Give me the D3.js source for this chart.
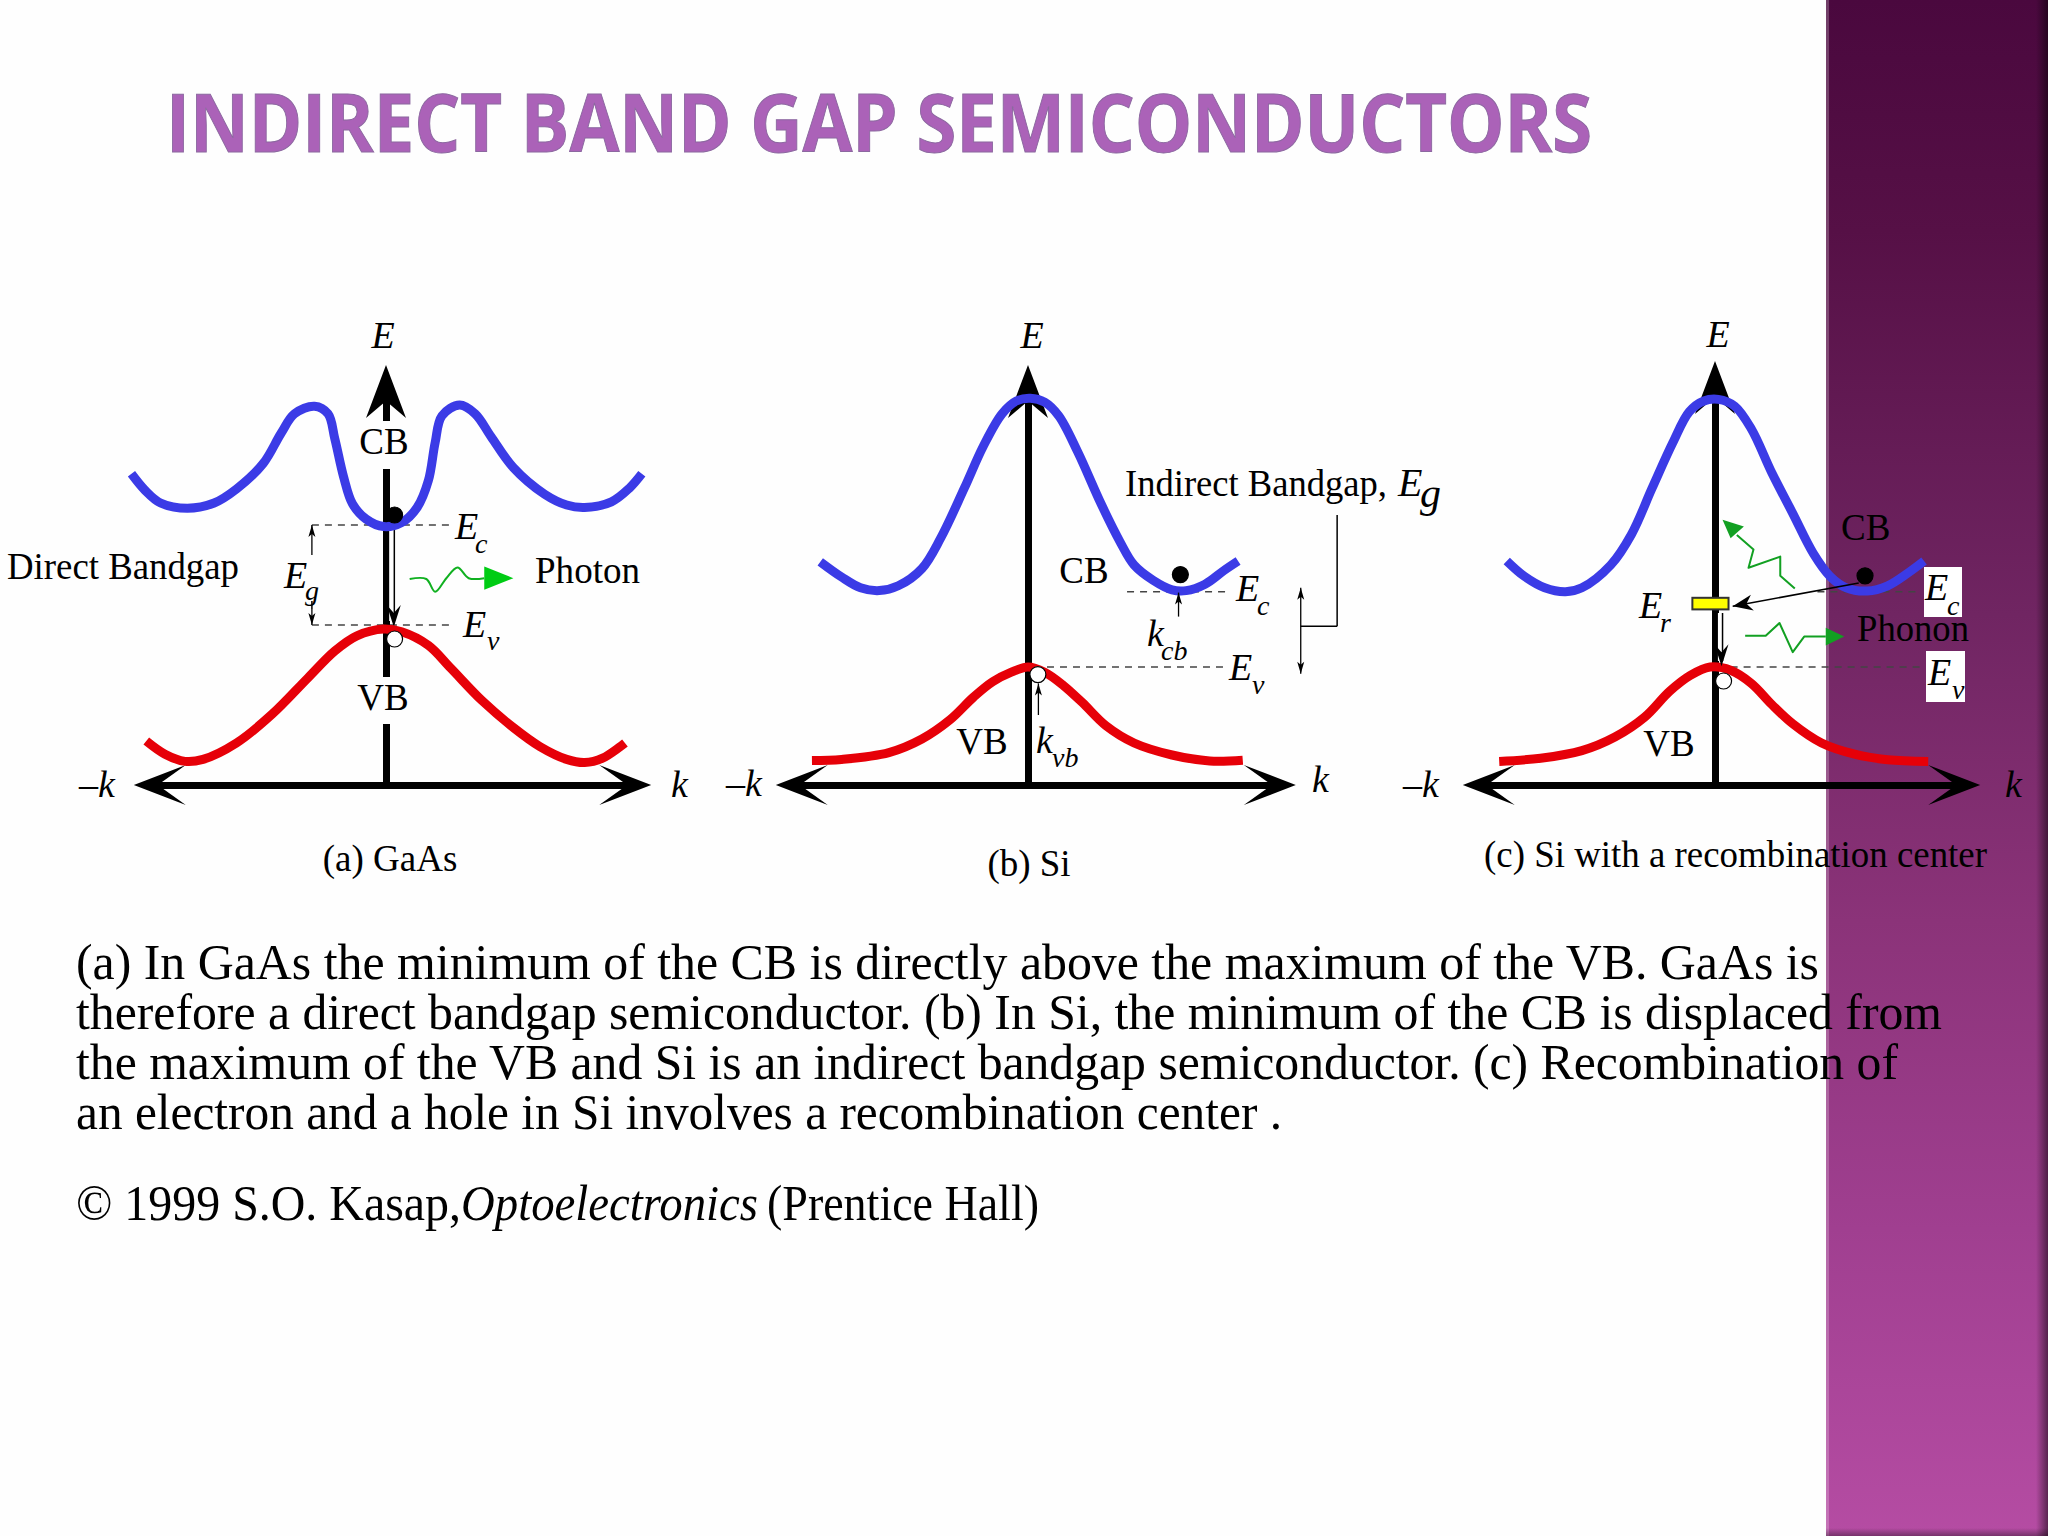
<!DOCTYPE html>
<html><head><meta charset="utf-8">
<style>html,body{margin:0;padding:0;background:#fff}svg{display:block}</style>
<script src="https://cdn.jsdelivr.net/npm/d3@7"></script></head><body>
<script>
// ---- title / caption text
const titleText = "INDIRECT BAND GAP SEMICONDUCTORS";
const bodyLines = [
 "(a) In GaAs the minimum of the CB is directly above the maximum of the VB. GaAs is",
 "therefore a direct bandgap semiconductor. (b) In Si, the minimum of the CB is displaced from",
 "the maximum of the VB and Si is an indirect bandgap semiconductor. (c) Recombination of",
 "an electron and a hole in Si involves a recombination center ."];
// ---- band curves: k (-100..100), E (0..100)
const aCB_k=[-97.9,-92.7,-86.7,-76.4,-66.1,-57.5,-47.2,-40.3,-35.2,-27.5,-22.3,-19.7,-16.3,-12.9,-7.7,-0.9,6,12,16.3,18.9,21.5,28.3,34.3,40.4,48.9,61,69.5,76.4,86.7,93.6,98.4];
const aCB_E=[77.8,73.7,70.5,69.2,70.5,74,80.4,88,92.8,94.7,92.8,86.6,77,70.3,66.5,64.6,65.6,69.4,76.1,85.6,92.3,95,92.8,87.1,79.4,72.7,70,69.4,70.8,74.2,77.8];
const aVB_k=[-92.2,-85,-77.3,-70.4,-57.5,-43.8,-30,-19.7,-11.2,-0.9,6,16.3,24.9,36.9,48.9,59.2,69.5,76.4,83.3,91.9];
const aVB_E=[11,7.7,5.9,6.4,10.5,17.7,26.8,33.5,37.3,39,38.3,34.9,29.2,21.1,14.4,9.6,6.4,5.6,6.7,10.5];
const bCB_k=[-79.9,-71.7,-64.4,-57.2,-49.9,-40.8,-33.6,-24.5,-17.2,-10,-4.5,0.9,6.4,11.8,19.1,28.1,35.4,40.8,48.1,55.4,60.8,68.1,75.3,80.8];
const bCB_E=[55.8,52,49.3,48.6,49.8,54.1,61.7,74.2,84.7,92.8,96,96.7,95.7,92.3,83.3,70.3,60.8,55,51.2,48.8,48.6,50.2,53.6,56];
const bVB_k=[-83.1,-71.7,-53.5,-40.8,-30,-20.9,-13.6,-6.4,0,6.4,13.6,20.9,30,40.8,55.4,69.9,82.6];
const bVB_E=[6.1,6.4,8.1,11.5,16.3,22,25.8,28.2,29.5,28.2,24.9,20.6,14.8,10.5,7.5,6,6.2];
const cCB_k=[-80.1,-73.4,-65.5,-57.5,-51.2,-40.1,-32.1,-24.2,-16.2,-9.9,-4.3,1.3,7.6,14,21.9,29.9,37.8,44.2,50.5,58.5,66.4,74.4,80.4];
const cCB_E=[56,52.2,49.3,48.3,49.3,55,62.7,74.2,85.6,93.3,96,96.4,94.7,89,78,67.9,57.9,52.2,49.3,48.5,49.8,53.1,56];
const cVB_k=[-83,-67.1,-51.2,-38.5,-27,-17.5,-9.5,-1.9,6,14,21.9,29.9,41,53.7,66.4,82];
const cVB_E=[5.9,6.7,8.6,12.0,17.0,23.4,27.4,29.5,28.7,25.4,20.1,15.3,10.5,7.7,6.3,5.9];
// ---- wavy emission paths
const aPhoton_k=[9.1,15.5,18.9,23.2,27.5,31.8,37.8];
const aPhoton_E=[51.5,51.5,48.3,51.7,54.4,51.7,51.7];
const cPhononUp_k=[30.7,25.1,25.1,12.9,14.8,8.4];
const cPhononUp_E=[49.1,52.3,57.1,54.3,58.9,62.5];
const cPhonon_k=[11.6,19.5,24.8,29.9,34.3,42.6];
const cPhonon_E=[37.3,37.3,40.5,33.2,37.1,37.1];

const W=2048,H=1536;
const svg=d3.select("body").append("svg").attr("width",W).attr("height",H).attr("viewBox",`0 0 ${W} ${H}`);
const defs=svg.append("defs");
const g1=defs.append("linearGradient").attr("id","band").attr("x1",0).attr("x2",0).attr("y1",0).attr("y2",1);
[[0,"#4a083e"],[.15,"#561046"],[.4,"#702562"],[.6,"#8b3379"],[.8,"#a03f90"],[1,"#b54ca3"]].forEach(d=>g1.append("stop").attr("offset",d[0]).attr("stop-color",d[1]));
const g2=defs.append("linearGradient").attr("id","edge");
g2.append("stop").attr("offset",0).attr("stop-color","#000").attr("stop-opacity",0);
g2.append("stop").attr("offset",1).attr("stop-color","#000").attr("stop-opacity",.5);
const g3=defs.append("linearGradient").attr("id","edgeB").attr("x1",0).attr("x2",0).attr("y1",0).attr("y2",1);
g3.append("stop").attr("offset",0).attr("stop-color","#000").attr("stop-opacity",0);
g3.append("stop").attr("offset",1).attr("stop-color","#000").attr("stop-opacity",.35);
svg.append("rect").attr("width",W).attr("height",H).attr("fill","#fefefe");
svg.append("rect").attr("x",1826).attr("width",222).attr("height",H).attr("fill","url(#band)");
svg.append("rect").attr("x",1826).attr("width",3).attr("height",H).attr("fill","#fff").attr("opacity",.22);
svg.append("rect").attr("x",2036).attr("width",12).attr("height",H).attr("fill","url(#edge)");
svg.append("rect").attr("x",1826).attr("y",1528).attr("width",222).attr("height",8).attr("fill","url(#edgeB)");

// Title
svg.append("text").text(titleText).attr("x",166).attr("y",152)
 .attr("font-family","'Open Sans'").attr("font-weight",700).attr("font-size",80)
 .attr("fill","#ab62b8").attr("stroke","#8c68a0").attr("stroke-width",1)
 .attr("textLength",1426).attr("lengthAdjust","spacingAndGlyphs");

const serif="'Liberation Serif'";
function label(s,x,y,size,opt={}){
  const t=svg.append("text").text(s).attr("x",x).attr("y",y).attr("font-family",serif)
    .attr("font-size",size).attr("fill","#000");
  if(opt.i)t.attr("font-style","italic");
  if(opt.c)t.attr("text-anchor","middle");
  if(opt.w)t.attr("textLength",opt.w).attr("lengthAdjust","spacingAndGlyphs");
  return t;
}
// subscripted symbol as one text element
function sym(s,x,y,size,sub,sx,sy,subSize=28){
  const t=svg.append("text").attr("font-family",serif).attr("font-style","italic").attr("fill","#000");
  t.append("tspan").text(s).attr("x",x).attr("y",y).attr("font-size",size);
  t.append("tspan").text(sub).attr("x",sx).attr("y",sy).attr("font-size",subSize);
}
// Body text: one element, one tspan per line
const bodyBase=[979,1029,1079,1129], bodyEnd=[1819,1942,1898,1282];
const bodyT=svg.append("text").attr("font-family",serif).attr("font-size",51).attr("fill","#000");
bodyLines.forEach((s,i)=>bodyT.append("tspan").text(s).attr("x",76).attr("y",bodyBase[i])
   .attr("textLength",bodyEnd[i]-76).attr("lengthAdjust","spacingAndGlyphs"));
const copyT=svg.append("text").attr("font-family",serif).attr("font-size",51).attr("fill","#000");
copyT.append("tspan").text("© 1999 S.O. Kasap,").attr("x",76).attr("y",1220).attr("textLength",385).attr("lengthAdjust","spacingAndGlyphs");
copyT.append("tspan").text("Optoelectronics").attr("x",461).attr("y",1220).attr("font-style","italic").attr("textLength",297).attr("lengthAdjust","spacingAndGlyphs");
copyT.append("tspan").text("(Prentice Hall)").attr("x",767).attr("y",1220).attr("textLength",272).attr("lengthAdjust","spacingAndGlyphs");

// panels
const panel=cx=>({x:d3.scaleLinear().domain([-100,100]).range([cx-260,cx+260]),
                  y:d3.scaleLinear().domain([0,100]).range([785,385])});
const A=panel(386),B=panel(1028),C=panel(1715);
const BLUE="#3b3be6",RED="#e60008",GREEN="#10b020";

function curve(P,ks,Es,col,sw=9,layer=svg,ctype=d3.curveCatmullRom){
  const l=d3.line().x(i=>P.x(ks[i])).y(i=>P.y(Es[i])).curve(ctype);
  layer.append("path").attr("d",l(d3.range(ks.length))).attr("fill","none").attr("stroke",col)
   .attr("stroke-width",sw).attr("stroke-linejoin","round");
}
function head(tip,from,L,Wd,N,fill){
  const dx=tip[0]-from[0],dy=tip[1]-from[1],m=Math.hypot(dx,dy),u=dx/m,v=dy/m;
  const p=[[tip[0],tip[1]],[tip[0]-u*L-v*Wd,tip[1]-v*L+u*Wd],[tip[0]-u*N,tip[1]-v*N],[tip[0]-u*L+v*Wd,tip[1]-v*L-u*Wd]];
  svg.append("path").attr("d",d3.line()(p)+"Z").attr("fill",fill);
}
function axes(P,kL,kR,eTop){
  const xs=P.x.copy().domain([kL+8,kR-8]).range([P.x(kL+8),P.x(kR-8)]);
  svg.append("g").attr("transform",`translate(0,${P.y(0)})`)
    .call(d3.axisBottom(xs).tickValues([]).tickSizeOuter(0))
    .call(g=>g.select(".domain").attr("stroke","#000").attr("stroke-width",7));
  const ys=P.y.copy().domain([0,eTop-4]).range([P.y(0),P.y(eTop-4)]);
  svg.append("g").attr("transform",`translate(${P.x(0)},0)`)
    .call(d3.axisLeft(ys).tickValues([]).tickSizeOuter(0))
    .call(g=>g.select(".domain").attr("stroke","#000").attr("stroke-width",7));
  head([P.x(kR),P.y(0)],[P.x(0),P.y(0)],52,20,24,"#000");
  head([P.x(kL),P.y(0)],[P.x(0),P.y(0)],52,20,24,"#000");
  head([P.x(0),P.y(eTop)],[P.x(0),P.y(0)],53,20,36,"#000");
}
function seg(P,k1,E1,k2,E2,col="#000",sw=1.5,dash=null){
  const s=svg.append("line").attr("x1",P.x(k1)).attr("y1",P.y(E1)).attr("x2",P.x(k2)).attr("y2",P.y(E2))
    .attr("stroke",col).attr("stroke-width",sw);
  if(dash)s.attr("stroke-dasharray",dash);
}
function thinArrow(P,k1,E1,k2,E2,L=12,Wd=3.5,N=9,sw=1.3,col="#000"){
  seg(P,k1,E1,k2,E2,col,sw);
  head([P.x(k2),P.y(E2)],[P.x(k1),P.y(E1)],L,Wd,N,col);
}
function dot(P,k,E,filled){
  svg.append("circle").attr("cx",P.x(k)).attr("cy",P.y(E)).attr("r",8)
    .attr("fill",filled?"#000":"#fff").attr("stroke","#000").attr("stroke-width",1.2);
}
function greenArrow(P,tk,tE,b1k,b1E,b2k,b2E,col){
  svg.append("path").attr("d",d3.line()([[P.x(tk),P.y(tE)],[P.x(b1k),P.y(b1E)],[P.x(b2k),P.y(b2E)]])+"Z").attr("fill",col);
}
const DASH="7 6",DCOL="#444";

// ===== (a) GaAs
axes(A,-97,102,105);
svg.append("rect").attr("x",A.x(0)-6).attr("y",421).attr("width",12).attr("height",48).attr("fill","#fefefe");
svg.append("rect").attr("x",A.x(0)-6).attr("y",677).attr("width",12).attr("height",47).attr("fill","#fefefe");
seg(A,-28.5,65,25,65,DCOL,1.4,DASH);
seg(A,-28.5,40,25.5,40,DCOL,1.4,DASH);
seg(A,1.8,64,1.8,41,"#fff",3);
seg(A,3.2,64,3.2,41,"#000",1.5);
head([A.x(3),A.y(39.5)],[A.x(3),A.y(60)],22,7,14,"#000");
thinArrow(A,-28.5,57.5,-28.5,65);
thinArrow(A,-28.5,44,-28.5,40);
seg(A,-28.5,46,-28.5,44);
curve(A,aCB_k,aCB_E,BLUE);
curve(A,aVB_k,aVB_E,RED);
dot(A,3.3,67.5,true); dot(A,3.3,36.5,false);
curve(A,aPhoton_k,aPhoton_E,GREEN,2);
greenArrow(A,49,51.7,37.8,54.6,37.8,48.8,"#00cc14");
label("E",383,348,38,{i:1,c:1});
label("CB",384,454,37,{c:1});
label("Direct Bandgap",7,579,37,{w:232});
sym("E",455,539,38,"c",475,553);
sym("E",284,588,38,"g",305,600);
sym("E",463,637,38,"v",487,650);
label("Photon",535,583,37,{w:105});
label("VB",383,710,37,{c:1});
label("–k",79,797,38,{i:1}); label("k",671,797,38,{i:1});
label("(a) GaAs",390,871,37,{c:1});

// ===== (b) Si
axes(B,-97,103,105);
seg(B,38.1,48.3,77.1,48.3,DCOL,1.4,DASH);
seg(B,7.3,29.5,75.3,29.5,DCOL,1.4,DASH);
curve(B,bCB_k,bCB_E,BLUE);
curve(B,bVB_k,bVB_E,RED);
dot(B,58.6,52.6,true); dot(B,3.8,27.6,false);
thinArrow(B,57.9,42.1,57.9,48.1);
thinArrow(B,4,17.5,4,25.4);
thinArrow(B,104.9,39,104.9,49.3);
thinArrow(B,104.9,39,104.9,27.8);
seg(B,104.9,39.7,118.9,39.7);
seg(B,118.9,39.7,118.9,67.5);
label("E",1032,348,38,{i:1,c:1});
label("CB",1084,583,37,{c:1});
label("Indirect Bandgap,",1125,496,37,{w:262});
sym("E",1398,496,40,"g",1420,507,42);
sym("E",1236,601,38,"c",1257,615);
sym("k",1147,646,38,"cb",1161,660);
sym("E",1229,680,38,"v",1252,694);
label("VB",982,754,37,{c:1});
sym("k",1036,753,38,"vb",1052,767);
label("–k",726,796,38,{i:1}); label("k",1312,792,38,{i:1});
label("(b) Si",1029,876,37,{c:1});

// ===== (c) Si with a recombination center
axes(C,-97,102,106);
seg(C,39.4,48.3,78.8,48.3,DCOL,1.4,DASH);
seg(C,6,29.5,78.8,29.5,DCOL,1.4,DASH);
curve(C,cCB_k,cCB_E,BLUE);
curve(C,cVB_k,cVB_E,RED);
svg.append("rect").attr("x",C.x(-8.7)).attr("y",C.y(46.8)).attr("width",C.x(5.2)-C.x(-8.7)).attr("height",C.y(43.9)-C.y(46.8))
  .attr("fill","#ffff00").attr("stroke","#333").attr("stroke-width",2);
dot(C,57.7,52.3,true); dot(C,3.3,26,false);
thinArrow(C,55.3,50.5,6.8,44.7,20,8,14,1.6);
seg(C,1.7,43,1.7,31,"#fff",3);
seg(C,2.9,43,2.9,31,"#000",1.5);
head([C.x(2.5),C.y(29.7)],[C.x(2.5),C.y(43)],22,7,14,"#000");
curve(C,cPhononUp_k,cPhononUp_E,"#12a022",2,svg,d3.curveLinear);
greenArrow(C,2.9,66.3,6,61.7,11.1,64.6,"#12a022");
curve(C,cPhonon_k,cPhonon_E,"#12a022",2,svg,d3.curveLinear);
greenArrow(C,49.7,37.1,42.6,39.3,42.6,34.9,"#12a022");
svg.append("rect").attr("x",1924).attr("y",567).attr("width",38).attr("height",50).attr("fill","#fff");
svg.append("rect").attr("x",1926).attr("y",651).attr("width",39).attr("height",51).attr("fill","#fff");
label("E",1718,347,38,{i:1,c:1});
label("CB",1841,540,37);
sym("E",1925,600,38,"c",1947,615);
sym("E",1639,618,38,"r",1660,632);
label("Phonon",1857,641,37,{w:112});
sym("E",1928,685,38,"v",1952,699);
label("VB",1669,756,37,{c:1});
label("–k",1403,797,38,{i:1}); label("k",2005,797,38,{i:1});
label("(c) Si with a recombination center",1484,867,37,{w:503});
</script></body></html>
